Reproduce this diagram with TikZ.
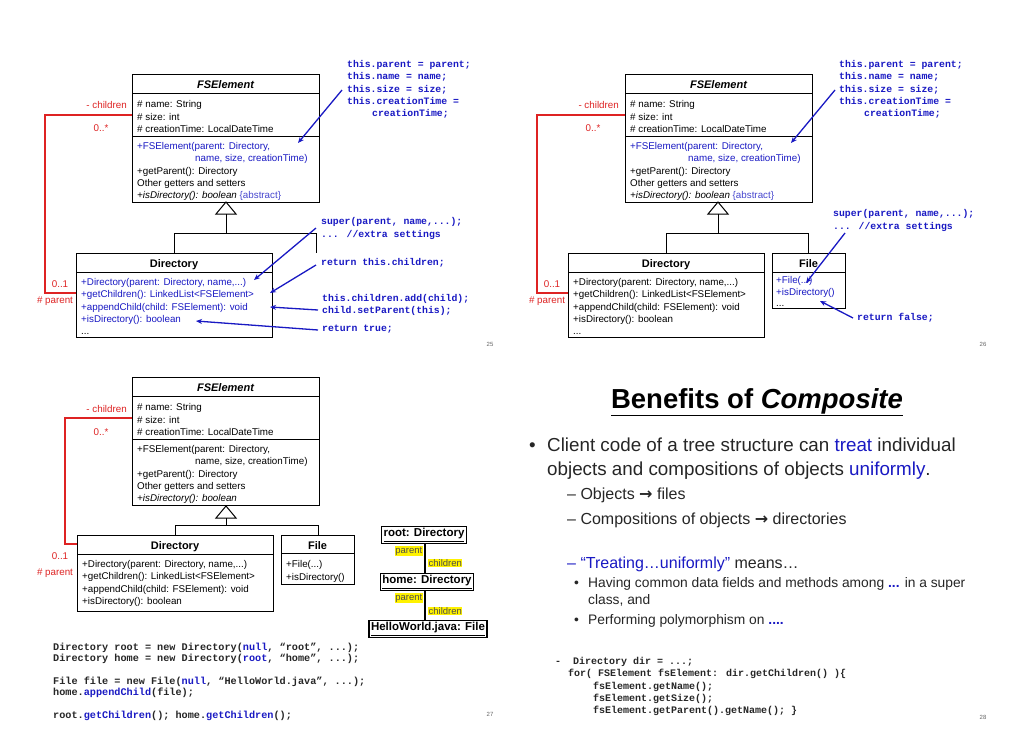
\documentclass[tikz,border=0pt]{standalone}
\usepackage{fontspec}
\setmainfont{Liberation Sans}
\newfontfamily\monof{Liberation Mono}
\newfontfamily\dvf{DejaVu Sans}
\usetikzlibrary{arrows.meta}
\definecolor{cblue}{RGB}{25,25,195}
\definecolor{cred}{RGB}{222,35,35}
\newcommand\umlf{\fontsize{9.8}{11}\selectfont}
\newcommand\ttlf{\fontsize{11}{13}\selectfont\bfseries}
\newcommand\cdf{\fontsize{9.8}{11}\selectfont\monof\bfseries}
\newcommand\rar{{\dvf\bfseries →}}
\tikzset{
 box/.style={draw=black,line width=1pt},
 txt/.style={anchor=base west,inner sep=0pt,font=\umlf},
 ttl/.style={anchor=base,inner sep=0pt,font=\ttlf},
 rtxt/.style={inner sep=0pt,font=\umlf,text=cred},
 cd/.style={anchor=base west,inner sep=0pt,font=\cdf,text=cblue},
 cdk/.style={anchor=base west,inner sep=0pt,font=\fontsize{10.2}{12}\selectfont\monof\bfseries,text=black!85},
 arr/.style={draw=cblue,line width=1.3pt,-{Stealth[length=6pt,width=5pt]}},
 assoc/.style={draw=cred,line width=1.8pt},
 gen/.style={draw=black,line width=1pt},
 pg/.style={inner sep=0pt,font=\fontsize{6}{7}\selectfont,text=black!60},
 hl/.style={fill=yellow,inner sep=0.5pt,font=\fontsize{9.5}{11}\selectfont,text=black!70},
 obj/.style={draw=black,line width=1.3pt,inner sep=2pt,font=\fontsize{11.5}{13}\selectfont\bfseries},
}
\newcommand\fsbox[4]{%
\begin{scope}[shift={#2}]
 \draw[box] (0,0) rectangle (187,128);
 \draw[box] (0,19) -- (187,19);
 \draw[box] (0,62) -- (187,62);
 \node[ttl,font=\ttlf\itshape] (#1t) at (93.5,14) {FSElement};
 \node[txt] (#1a1) at (5,33) {\# name: String};
 \node[txt] (#1a2) at (5,46) {\# size: int};
 \node[txt] (#1a3) at (5,58) {\# creationTime: LocalDateTime};
 \node[txt,text=#3] (#1m1) at (5,75) {+FSElement(parent: Directory,};
 \node[txt,text=#3] (#1m2) at (63,87) {name, size, creationTime)};
 \node[txt] (#1m3) at (5,100) {+getParent(): Directory};
 \node[txt] (#1m4) at (5,112) {Other getters and setters};
 \node[txt] (#1m5) at (5,124) {\itshape +isDirectory(): boolean#4};
 \coordinate (#1L) at (0,41);
\end{scope}}
\newcommand\dirbox[5]{%
\begin{scope}[shift={#2}]
 \draw[box] (0,0) rectangle (196,#4);
 \draw[box] (0,19) -- (196,19);
 \node[ttl] (#1t) at (98,14) {Directory};
 \node[txt,text=#3] (#1m1) at (5,32) {+Directory(parent: Directory, name,...)};
 \node[txt,text=#3] (#1m2) at (5,44) {+getChildren(): LinkedList<FSElement>};
 \node[txt,text=#3] (#1m3) at (5,57) {+appendChild(child: FSElement): void};
 \node[txt,text=#3] (#1m4) at (5,69) {+isDirectory(): boolean};
 #5
 \coordinate (#1L) at (0,40);
\end{scope}}
\begin{document}
\begin{tikzpicture}[x=1pt,y=-1pt]
\useasboundingbox (0,0) rectangle (1024,748);
\fill[white] (0,0) rectangle (1024,748);

%%%%%%%%%%%%%%%% slide 25
\fsbox{a}{(132,74)}{cblue}{ \upshape\color{cblue!80}\{abstract\}}
\dirbox{b}{(76,253)}{cblue}{84}{\node[txt] (bm5) at (5,81) {...};}
\draw[gen] (226,202) -- (216,214) -- (236,214) -- cycle;
\draw[gen] (226,214) -- (226,233) (174,253) -- (174,233) -- (316,233) -- (316,253);
\draw[assoc] (aL) -- (45,115) -- (45,293) -- (bL);
\node[rtxt,anchor=east] (ach) at (127,105) {- children};
\node[rtxt] (ast) at (101,128) {0..*};
\node[rtxt] (a01) at (60,284) {0..1};
\node[rtxt] (apar) at (55,301) {\# parent};
\node[cd] (n1) at (347,67) {this.parent = parent;};
\node[cd] (n2) at (347,79) {this.name = name;};
\node[cd] (n3) at (347,92) {this.size = size;};
\node[cd] (n4) at (347,104) {this.creationTime =};
\node[cd] (n5) at (372,116) {creationTime;};
\coordinate (t1) at (298,143);
\draw[arr] (342,90) -- (t1);
\node[cd] (s1) at (321,224) {super(parent, name,...);};
\node[cd] (s2) at (321,237) {... //extra settings};
\coordinate (t2) at (254,280);
\draw[arr] (316,228) -- (t2);
\node[cd] (r1) at (321,265) {return this.children;};
\coordinate (t3) at (270,293);
\draw[arr] (316,265) -- (t3);
\node[cd] (c1) at (322,301) {this.children.add(child);};
\node[cd] (c2) at (322,313) {child.setParent(this);};
\coordinate (t4) at (270,307);
\draw[arr] (318,310) -- (t4);
\node[cd] (rt) at (322,331) {return true;};
\coordinate (t5) at (196,321);
\draw[arr] (318,330) -- (t5);
\node[pg] (p25) at (490,344) {25};

%%%%%%%%%%%%%%%% slide 26
\fsbox{c}{(625,74)}{cblue}{ \upshape\color{cblue!80}\{abstract\}}
\dirbox{d}{(568,253)}{black}{84}{\node[txt] (dm5) at (5,81) {...};}
\draw[box] (772,253) rectangle (845,308);
\draw[box] (772,272) -- (845,272);
\node[ttl] (ft) at (808.5,267) {File};
\node[txt,text=cblue] (fm1) at (776,283) {+File(...)};
\node[txt,text=cblue] (fm2) at (776,295) {+isDirectory()};
\node[txt] (fm3) at (776,306) {...};
\draw[gen] (718,202) -- (708,214) -- (728,214) -- cycle;
\draw[gen] (718,214) -- (718,233) (666,253) -- (666,233) -- (808,233) -- (808,253);
\draw[assoc] (cL) -- (537,115) -- (537,293) -- (dL);
\node[rtxt,anchor=east] (cch) at (619,105) {- children};
\node[rtxt] (cst) at (593,128) {0..*};
\node[rtxt] (c01) at (552,284) {0..1};
\node[rtxt] (cpar) at (547,301) {\# parent};
\node[cd] (o1) at (839,67) {this.parent = parent;};
\node[cd] (o2) at (839,79) {this.name = name;};
\node[cd] (o3) at (839,92) {this.size = size;};
\node[cd] (o4) at (839,104) {this.creationTime =};
\node[cd] (o5) at (864,116) {creationTime;};
\coordinate (u1) at (791,143);
\draw[arr] (835,90) -- (u1);
\node[cd] (q1) at (833,216) {super(parent, name,...);};
\node[cd] (q2) at (833,229) {... //extra settings};
\coordinate (u2) at (806,283);
\draw[arr] (845,233) -- (u2);
\node[cd] (rf) at (857,320) {return false;};
\coordinate (u3) at (820,301);
\draw[arr] (853,318) -- (u3);
\node[pg] (p26) at (983,344) {26};

%%%%%%%%%%%%%%%% slide 27
\fsbox{e}{(132,377)}{black}{}
\dirbox{g}{(77,535)}{black}{76}{}
\draw[box] (281,535) rectangle (354,584);
\draw[box] (281,553) -- (354,553);
\node[ttl] (ht) at (317.5,549) {File};
\node[txt] (hm1) at (286,567) {+File(...)};
\node[txt] (hm2) at (286,580) {+isDirectory()};
\draw[gen] (226,506) -- (216,518) -- (236,518) -- cycle;
\draw[gen] (226,518) -- (226,525) (175,535) -- (175,525) -- (318,525) -- (318,535);
\draw[assoc] (eL) -- (65,418) -- (65,544) -- (77,544);
\node[rtxt,anchor=east] (ech) at (127,409) {- children};
\node[rtxt] (est) at (101,432) {0..*};
\node[rtxt] (e01) at (60,556) {0..1};
\node[rtxt] (epar) at (55,573) {\# parent};
\node[obj] (root) at (424,535) {\underline{root: Directory}};
\node[obj] (home) at (427,582) {\underline{home: Directory}};
\node[obj] (hw) at (428,629) {\underline{HelloWorld.java: File}};
\draw[gen,line width=1.2pt] (root.south -| 425,0) -- (home.north -| 425,0);
\draw[gen,line width=1.2pt] (home.south -| 425,0) -- (hw.north -| 425,0);
\node[hl,anchor=east] (pa1) at (423,551) {parent};
\node[hl,anchor=west] (ch1) at (428,563) {children};
\node[hl,anchor=east] (pa2) at (423,598) {parent};
\node[hl,anchor=west] (ch2) at (428,611) {children};
\node[cdk] (k1) at (53,650) {Directory root = new Directory(\textcolor{cblue}{null}, “root”, ...);};
\node[cdk] (k2) at (53,661) {Directory home = new Directory(\textcolor{cblue}{root}, “home”, ...);};
\node[cdk] (k3) at (53,684) {File file = new File(\textcolor{cblue}{null}, “HelloWorld.java”, ...);};
\node[cdk] (k4) at (53,695) {home.\textcolor{cblue}{appendChild}(file);};
\node[cdk] (k5) at (53,718) {root.\textcolor{cblue}{getChildren}(); home.\textcolor{cblue}{getChildren}();};
\node[pg] (p27) at (490,714) {27};

%%%%%%%%%%%%%%%% slide 28
\node[inner sep=0pt,font=\fontsize{27.5}{30}\selectfont\bfseries] (bt) at (757,402) {\underline{Benefits of \itshape Composite}};
\begin{scope}[every node/.style={anchor=base west,inner sep=0pt,font=\fontsize{18.8}{21}\selectfont,text=black!85}]
\node (b0) at (529,451) {•};
\node (b1) at (547,451) {Client code of a tree structure can \textcolor{cblue}{treat} individual};
\node (b2) at (547,475) {objects and compositions of objects \textcolor{cblue}{uniformly}.};
\end{scope}
\begin{scope}[every node/.style={anchor=base west,inner sep=0pt,font=\fontsize{16}{19}\selectfont,text=black!85}]
\node (d1) at (567,499) {– Objects \rar\ files};
\node (d2) at (567,524) {– Compositions of objects \rar\ directories};
\node (d3) at (567,568) {\textcolor{cblue}{– “Treating…uniformly”} means…};
\end{scope}
\begin{scope}[every node/.style={anchor=base west,inner sep=0pt,font=\fontsize{13.8}{16}\selectfont,text=black!85}]
\node (e0) at (574,587) {•};
\node (e1) at (588,587) {Having common data fields and methods among \textcolor{cblue}{\bfseries ...} in a super};
\node (e2) at (588,604) {class, and};
\node (e3) at (574,624) {•};
\node (e4) at (588,624) {Performing polymorphism on \textcolor{cblue}{\bfseries ....}};
\end{scope}
\begin{scope}[every node/.style={cdk,font=\fontsize{10}{12}\selectfont\monof\bfseries}]
\node (f0) at (555,664) {- \ Directory dir = ...;};
\node (f1) at (568,676) {for( FSElement fsElement: dir.getChildren() )\{};
\node (f2) at (593,689) {fsElement.getName();};
\node (f3) at (593,701) {fsElement.getSize();};
\node (f4) at (593,713) {fsElement.getParent().getName(); \}};
\end{scope}
\node[pg] (p28) at (983,717) {28};
\end{tikzpicture}
\end{document}
